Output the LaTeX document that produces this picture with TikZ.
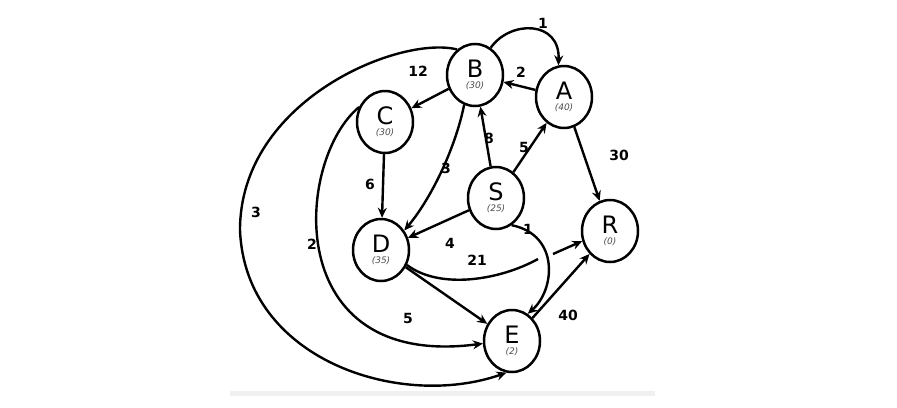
\documentclass[tikz,border=0pt]{standalone}
\usepackage{fontspec}
\setmainfont{DejaVu Sans}
\usetikzlibrary{shapes.geometric,arrows.meta}
\begin{document}
\begin{tikzpicture}[x=1pt,y=-1pt,
  vert/.style={ellipse,draw,line width=2.5pt,minimum width=56pt,minimum height=62pt,inner sep=0pt,align=center},
  edge/.style={line width=2.4pt,-{Stealth[length=10pt,width=9pt]}},
  plain/.style={line width=2.4pt},
  wl/.style={font=\bfseries\fontsize{14}{15}\selectfont}]
\useasboundingbox (0,0) rectangle (897,407);
\fill[gray!12] (230,391) rectangle (655,396);
\newcommand{\vtx}[2]{{\fontsize{24}{24}\selectfont #1}\\[-1pt]{\color{black!70}\itshape\fontsize{9}{9}\selectfont(#2)}}
\node[vert] (B) at (475,75) {\vtx{B}{30}};
\node[vert] (A) at (564,97) {\vtx{A}{40}};
\node[vert] (C) at (385,122) {\vtx{C}{30}};
\node[vert] (S) at (496,198) {\vtx{S}{25}};
\node[vert] (D) at (381,250) {\vtx{D}{35}};
\node[vert] (R) at (610,231) {\vtx{R}{0}};
\node[vert] (E) at (512,341) {\vtx{E}{2}};
\draw[edge] (B.60) .. controls (510,20) and (560,20) .. (A.100);
\draw[edge] (A) -- (B);
\draw[edge] (B) -- (C);
\draw[edge] (C) -- (D);
\draw[edge] (B.250) .. controls (455,150) and (430,200) .. (D.40);
\draw[edge] (S) -- (B);
\draw[edge] (S) -- (A);
\draw[edge] (A) -- (R);
\draw[edge] (S) -- (D);
\coordinate (g1) at (538,259);
\coordinate (g2) at (553,254);
\draw[plain] (D.330) .. controls (440,290) and (500,280) .. (g1);
\draw[edge] (g2) -- (R.200);
\draw[edge] (S.300) .. controls (560,235) and (555,290) .. (E.60);
\draw[edge] (D) -- (E);
\draw[edge] (E) -- (R);
\draw[edge] (C.150) .. controls (295,160) and (280,370) .. (E.185);
\draw[edge] (B.125) .. controls (400,35) and (240,100) .. (240,230) .. controls (245,360) and (400,410) .. (E.260);
\node[wl] (l1) at (543,23) {1};
\node[wl] (l2) at (521,72) {2};
\node[wl] (l12) at (418,71) {12};
\node[wl] (l6) at (370,184) {6};
\node[wl] (l3a) at (446,168) {3};
\node[wl] (l8) at (489,138) {8};
\node[wl] (l5a) at (524,147) {5};
\node[wl] (l30) at (619,155) {30};
\node[wl] (l4) at (450,243) {4};
\node[wl] (l21) at (477,260) {21};
\node[wl] (l1b) at (528,229) {1};
\node[wl] (l5b) at (408,318) {5};
\node[wl] (l40) at (568,315) {40};
\node[wl] (l2b) at (312,244) {2};
\node[wl] (l3b) at (256,212) {3};
\end{tikzpicture}
\end{document}
